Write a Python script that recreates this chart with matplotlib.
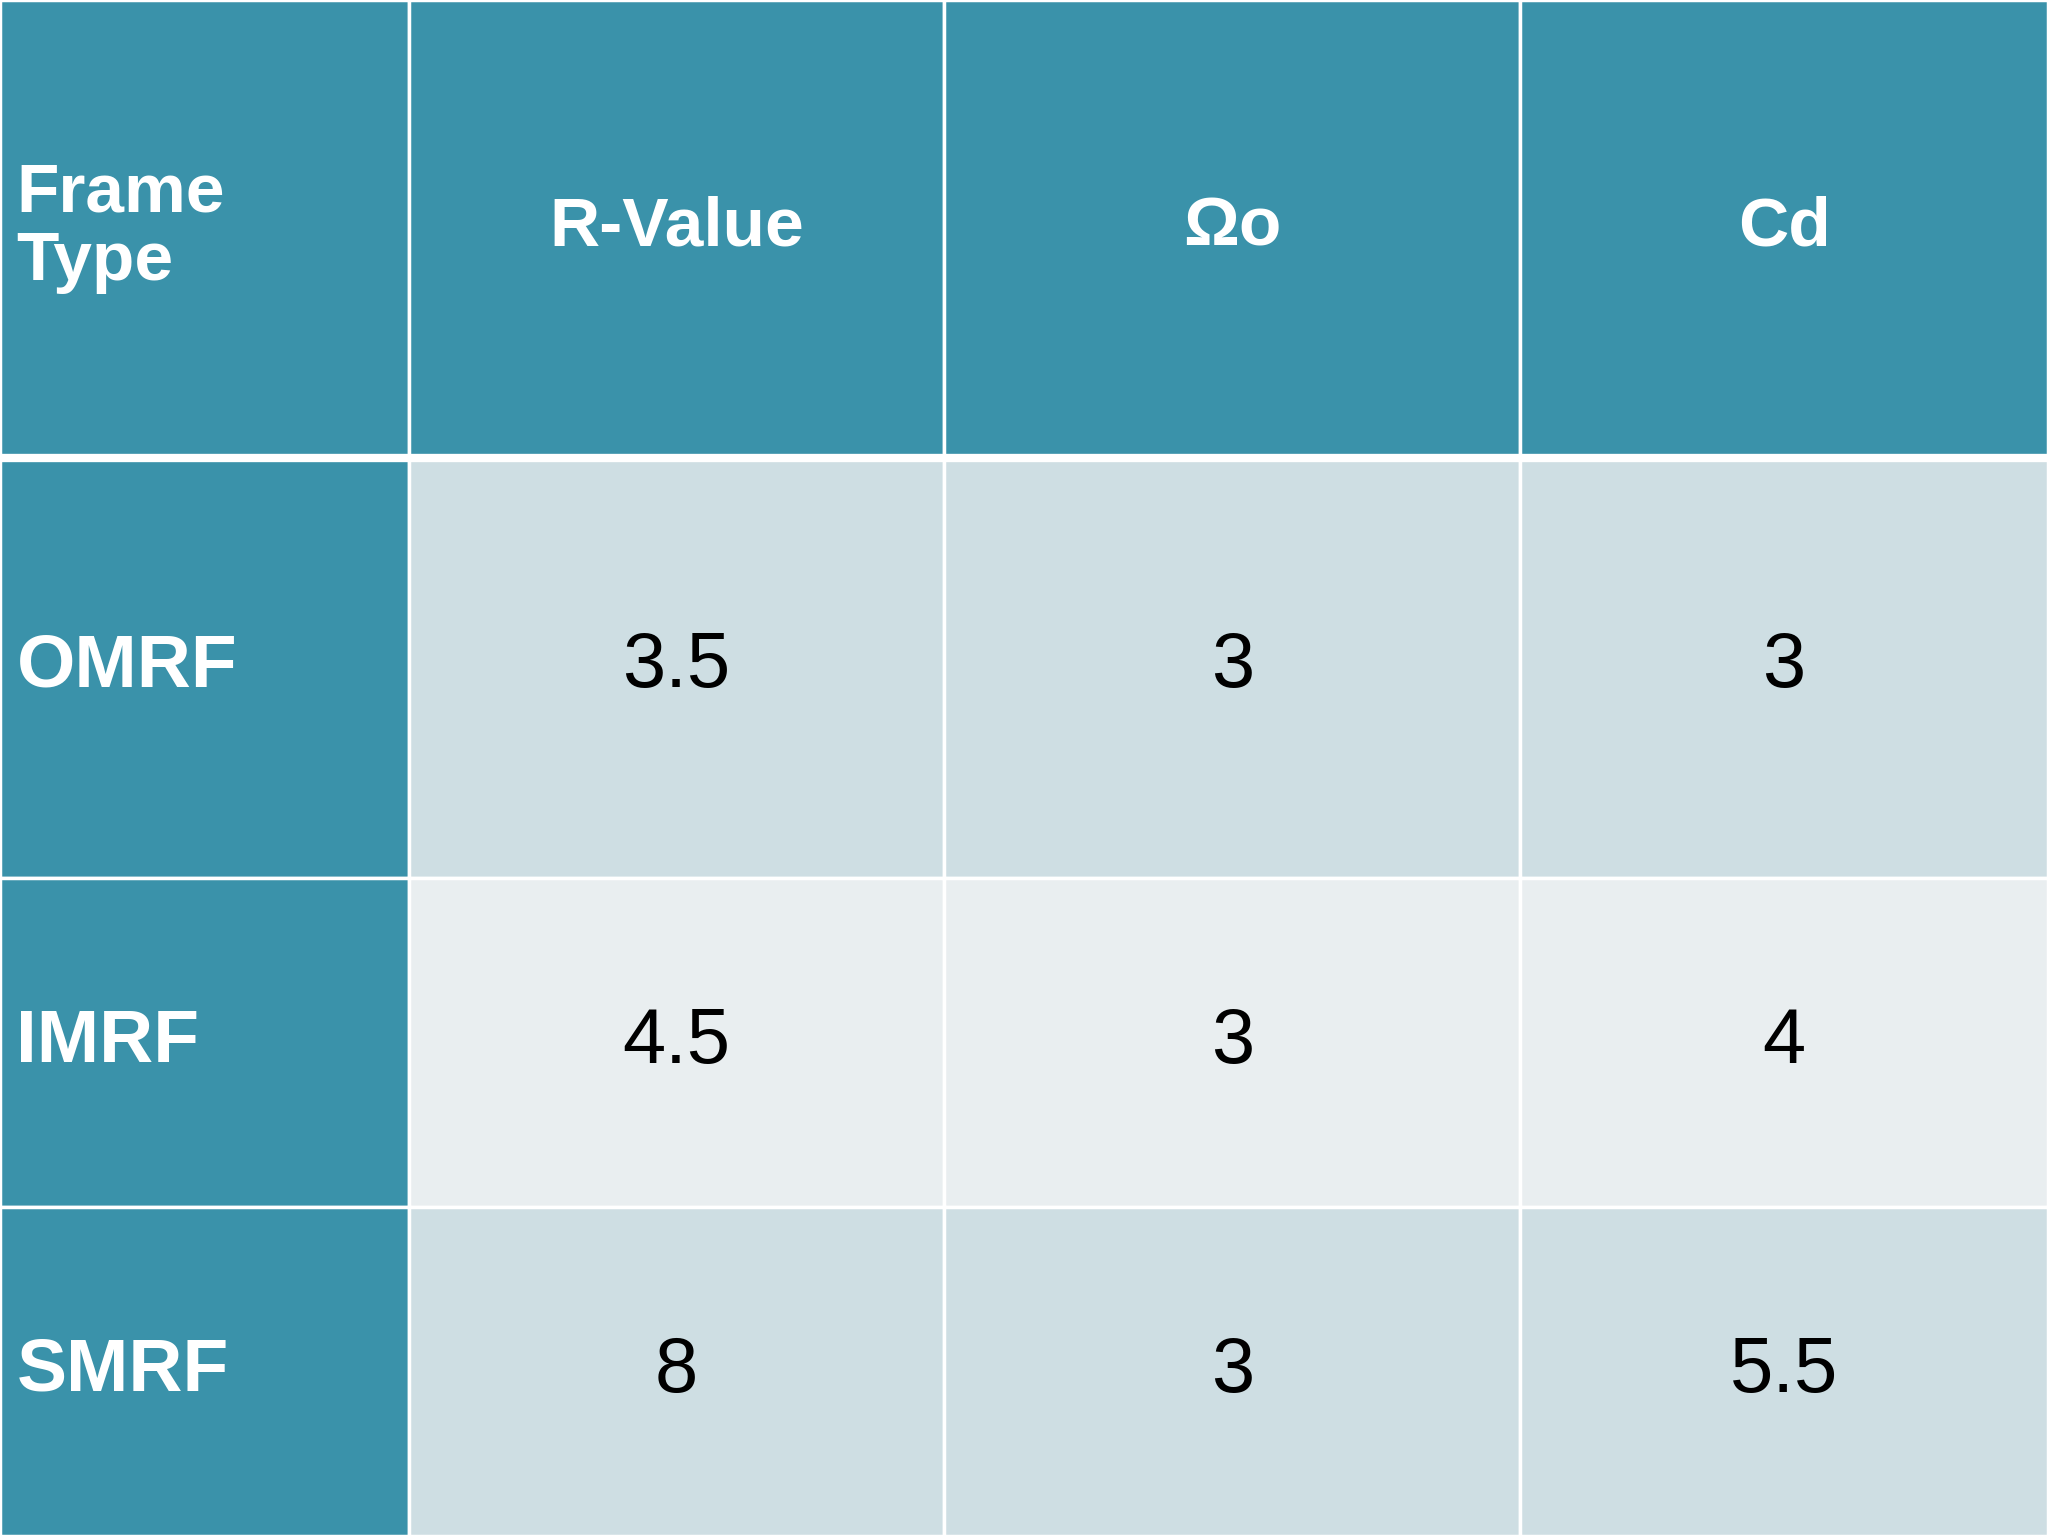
import matplotlib
matplotlib.use("Agg")
import matplotlib.pyplot as plt
from matplotlib.patches import Rectangle

plt.rcParams['font.family'] = ['Liberation Sans', 'DejaVu Sans']

headers = ['Frame\nType', 'R-Value', 'Ωo', 'Cd']
frames = ['OMRF', 'IMRF', 'SMRF']
r_value = ['3.5', '4.5', '8']
omega = ['3', '3', '3']
cd = ['3', '4', '5.5']

# column and row edges as fractions of the image (from top-left)
col_edges = [0, 313 / 1568, 723 / 1568, 1164 / 1568, 1]
row_edges = [0, 349 / 1176, 672 / 1176, 924 / 1176, 1]

teal = '#3A92AA'
row_fill = ['#CEDEE3', '#E9EEF0', '#CEDEE3']

fig = plt.figure(figsize=(20.48, 15.36), dpi=100)
ax = fig.add_axes([0, 0, 1, 1])
ax.set_xlim(0, 1)
ax.set_ylim(1, 0)
ax.axis('off')

def cell(c, r, color):
    x0, x1 = col_edges[c], col_edges[c + 1]
    y0, y1 = row_edges[r], row_edges[r + 1]
    ax.add_patch(Rectangle((x0, y0), x1 - x0, y1 - y0, facecolor=color,
                           edgecolor='white', linewidth=2.5))
    return (x0 + x1) / 2, (y0 + y1) / 2

# header row
for c, h in enumerate(headers):
    cx, cy = cell(c, 0, teal)
    if c == 0:
        ax.text(0.008, cy, h, ha='left', va='center', color='white',
                fontsize=50, fontweight='bold', linespacing=1.1)
    else:
        ax.text(cx, cy, h, ha='center', va='center', color='white',
                fontsize=50, fontweight='bold')

# body rows
for r, name in enumerate(frames):
    _, cy = cell(0, r + 1, teal)
    ax.text(0.008, cy, name, ha='left', va='center', color='white',
            fontsize=54, fontweight='bold')
    for c, vals in enumerate([r_value, omega, cd]):
        cx, cy = cell(c + 1, r + 1, row_fill[r])
        ax.text(cx, cy, vals[r], ha='center', va='center', color='black',
                fontsize=56)

# thicker separator under header
ax.plot([0, 1], [351 / 1176, 351 / 1176], color='white', linewidth=6)

fig.savefig('out.png', dpi=100)
